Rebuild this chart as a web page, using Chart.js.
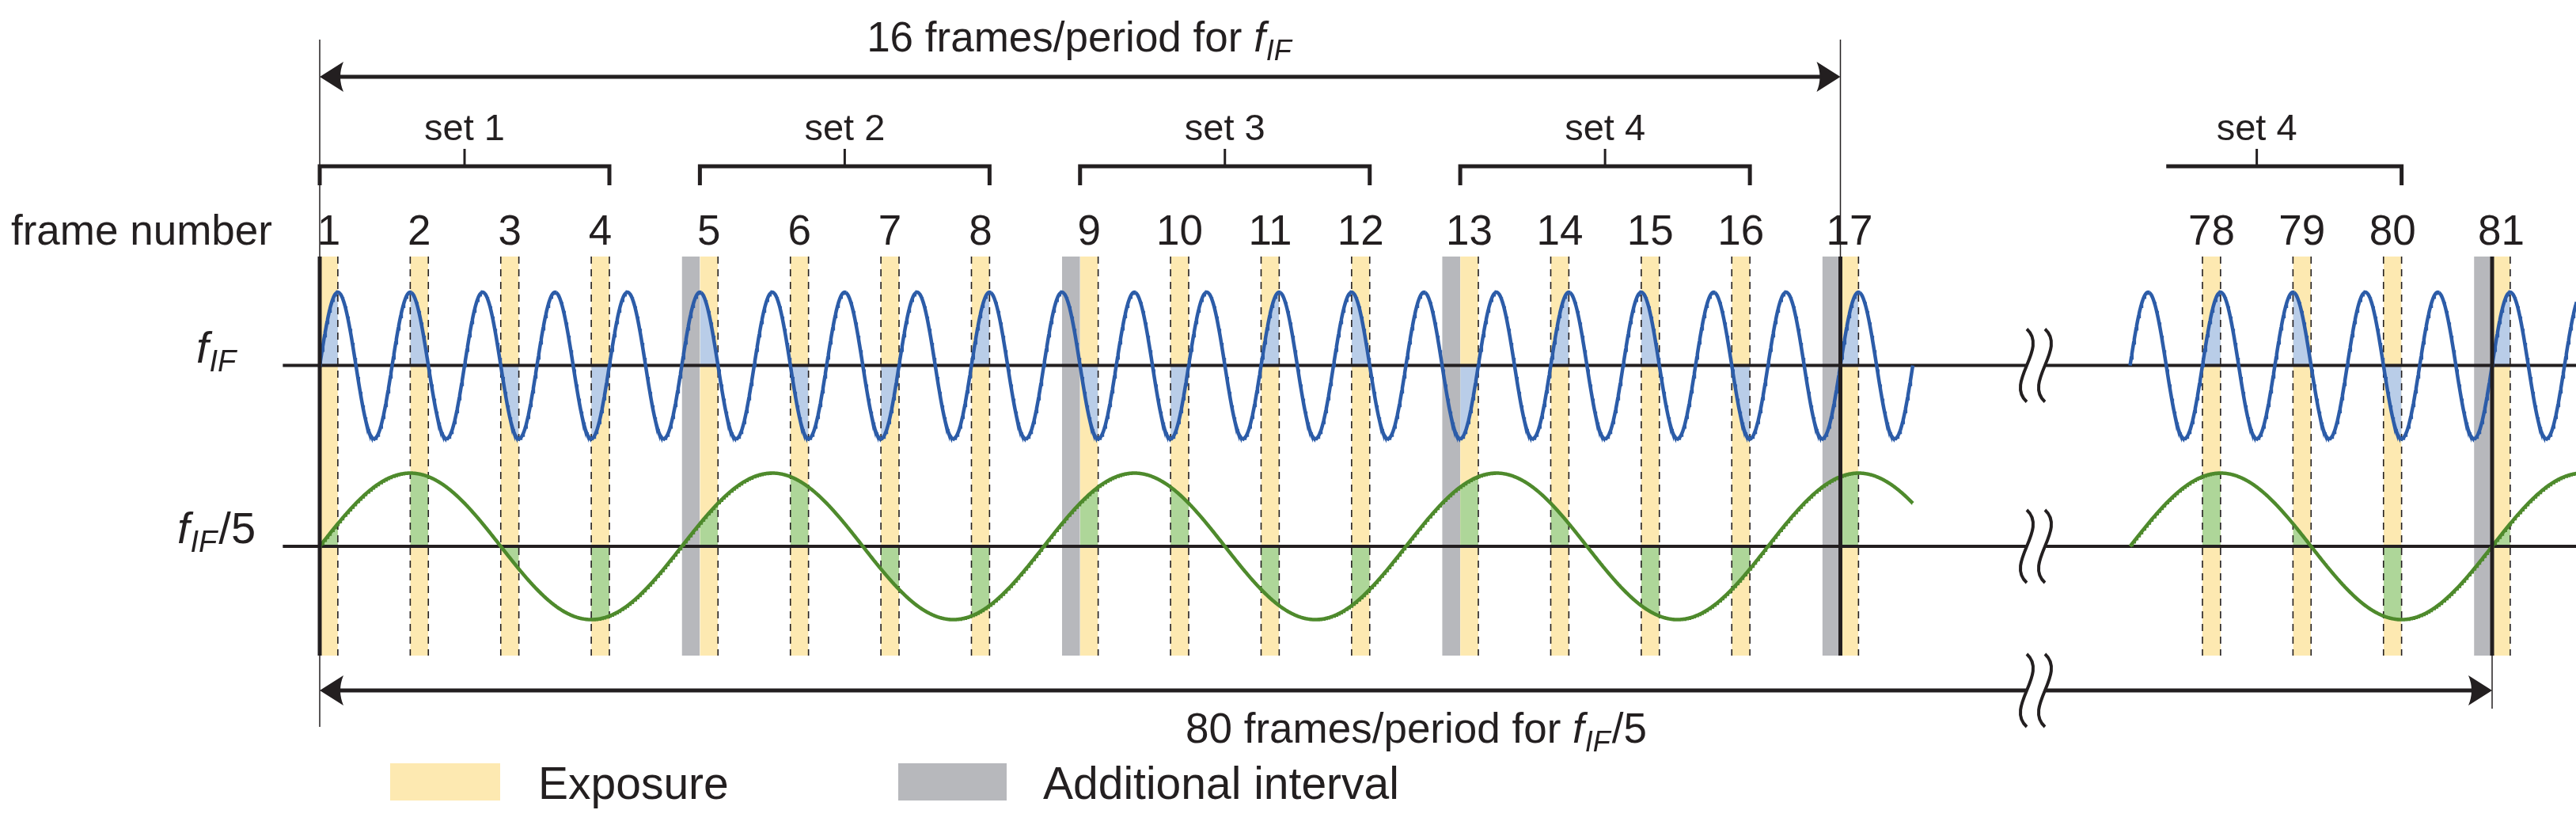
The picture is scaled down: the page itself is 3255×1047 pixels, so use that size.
<!DOCTYPE html>
<html><head><meta charset="utf-8">
<script src="https://cdn.jsdelivr.net/npm/chart.js@4"></script>
<style>html,body{margin:0;padding:0;background:#fff}canvas{display:block}</style>
</head><body>
<canvas id="c" width="3255" height="1047"></canvas>
<script>
// ---- data ----
const frameNumbers = [1,2,3,4,5,6,7,8,9,10,11,12,13,14,15,16,17,78,79,80,81];
const framesPerSet = 4;
const framePeriods = 1.25;        // frame length in fIF periods
const extraInterval = 0.25;       // additional interval (periods)
const exposureLen = 0.25;         // exposure length (periods)
const fastCycles = 1;             // fIF cycles per period
const slowCycles = 0.2;           // fIF/5 cycles per period
const setLabels = ['set 1','set 2','set 3','set 4','set 4'];
const setIndex = [0,1,2,3,19];
const greyBefore = [5,9,13,17,81];
const thickLines = [1,17,81];
const segments = [[0,22],[100,106.3]];
const breakShift = 75;            // axis compression after the break
const legendLabels = ['Exposure','Additional interval'];

// ---- layout constants (pixels, via y scale) ----
const Y_TOP = 324, Y_BOT = 828, AX1 = 461.6, AX2 = 690, AMP = 92.5;
const C_EXP = '#fde9b1', C_GREY = '#b7b8bc', C_BLUE = '#2c5ca8', C_BLUEF = '#b9cde8',
      C_GREEN = '#4e8a2c', C_GREENF = '#aed699', C_INK = '#231f20';
const FONT = '"Liberation Sans", Arial, sans-serif';

const tOf = n => Math.floor((n-1)/framesPerSet)*(framesPerSet*framePeriods+extraInterval) + ((n-1)%framesPerSet)*framePeriods;
const disp = t => t > 50 ? t - breakShift : t;

const layers = [];
function add(ds){ layers.push(ds); }
const base = {pointRadius:0, tension:0, borderWidth:0, fill:false};

greyBefore.forEach(n => { const t = disp(tOf(n));
  add({...base, data:[{x:t-extraInterval,y:Y_TOP},{x:t,y:Y_TOP}], fill:{value:Y_BOT}, backgroundColor:C_GREY}); });
frameNumbers.forEach(n => { const t = disp(tOf(n));
  add({...base, data:[{x:t,y:Y_TOP},{x:t+exposureLen,y:Y_TOP}], fill:{value:Y_BOT}, backgroundColor:C_EXP}); });
function curveR(t0,t1,cyc,ax){ const pts=[]; const N=Math.max(8,Math.round((t1-t0)*120)); const off = t0>50?breakShift:0;
  for(let i=0;i<=N;i++){ const t=t0+(t1-t0)*i/N; pts.push({x:t-off, y:ax - AMP*Math.sin(2*Math.PI*cyc*t)}); }
  return pts; }
frameNumbers.forEach(n => { const t = tOf(n);
  add({...base, data:curveR(t,t+exposureLen,fastCycles,AX1), fill:{value:AX1}, backgroundColor:C_BLUEF});
  add({...base, data:curveR(t,t+exposureLen,slowCycles,AX2), fill:{value:AX2}, backgroundColor:C_GREENF}); });
frameNumbers.forEach(n => { const t = disp(tOf(n));
  const edges = [t+exposureLen]; if(!thickLines.includes(n) && !greyBefore.includes(n)) edges.push(t);
  edges.forEach(e => add({...base, data:[{x:e,y:Y_TOP},{x:e,y:Y_BOT}], borderWidth:1.6, borderColor:C_INK, borderDash:[9,7]})); });
[AX1,AX2].forEach(ax => add({...base, data:[{x:-0.51,y:ax},{x:32,y:ax}], borderWidth:4, borderColor:C_INK}));
segments.forEach(([a,b]) => {
  add({...base, data:curveR(a,b,fastCycles,AX1), borderWidth:4.5, borderColor:C_BLUE});
  add({...base, data:curveR(a,b,slowCycles,AX2), borderWidth:4.5, borderColor:C_GREEN}); });
thickLines.forEach(n => { const t = disp(tOf(n));
  add({...base, data:[{x:t,y:Y_TOP},{x:t,y:Y_BOT}], borderWidth:5, borderColor:C_INK}); });
layers.forEach((d,i)=> d.order = layers.length - i);

const overlay = {
  id:'overlay',
  afterDatasetsDraw(chart){
    const ctx = chart.ctx, xs = chart.scales.x;
    const X = v => xs.getPixelForValue(v);
    ctx.save();
    ctx.fillStyle = C_INK; ctx.strokeStyle = C_INK;
    ctx.lineWidth = 1.5;
    const vline=(x,a,b)=>{ctx.beginPath();ctx.moveTo(x,a);ctx.lineTo(x,b);ctx.stroke();};
    vline(X(0),50,918); vline(X(disp(tOf(17))),50,Y_TOP); vline(X(disp(tOf(81))),Y_BOT,895);
    function arrow(x0,x1,y){ ctx.lineWidth=5; ctx.beginPath(); ctx.moveTo(x0+10,y); ctx.lineTo(x1-10,y); ctx.stroke();
      [[x0,1],[x1,-1]].forEach(([x,s])=>{ ctx.beginPath(); ctx.moveTo(x,y); ctx.lineTo(x+s*30,y-19);
        ctx.quadraticCurveTo(x+s*22,y,x+s*30,y+19); ctx.closePath(); ctx.fill(); }); }
    arrow(X(0),X(disp(tOf(17))),97);
    arrow(X(0),X(disp(tOf(81))),872);
    const bx = 2549;
    function brk(yc){ const h=46, top=yc-h, bot=yc+h;
      const s=(x0)=>{ctx.moveTo(x0+12,top); ctx.bezierCurveTo(x0+40,top+h*0.55, x0-16,bot-h*0.55, x0+12,bot);};
      ctx.fillStyle='#fff'; ctx.beginPath(); s(bx);
      ctx.lineTo(bx+35,bot); ctx.bezierCurveTo(bx+7,bot-h*0.55, bx+63,top+h*0.55, bx+35,top); ctx.closePath(); ctx.fill();
      ctx.strokeStyle=C_INK; ctx.lineWidth=4; ctx.beginPath(); s(bx); ctx.stroke(); ctx.beginPath(); s(bx+23); ctx.stroke(); }
    brk(AX1); brk(AX2); brk(872);
    ctx.fillStyle = C_INK;
    ctx.lineWidth = 5;
    setIndex.forEach((si,k)=>{ const s = disp(si*(framesPerSet*framePeriods+extraInterval)); const right = k===4;
      const a = X(right? s+0.75 : s), b = X(s+4), c = X(s+2);
      ctx.beginPath(); if(!right){ctx.moveTo(a,234); ctx.lineTo(a,210);} else ctx.moveTo(a,210);
      ctx.lineTo(b,210); ctx.lineTo(b,234); ctx.stroke();
      ctx.lineWidth=3; ctx.beginPath(); ctx.moveTo(c,210); ctx.lineTo(c,188); ctx.stroke(); ctx.lineWidth=5;
      ctx.font = '47px '+FONT; ctx.textAlign='center'; ctx.textBaseline='alphabetic';
      ctx.fillText(setLabels[k], c, 177); });
    ctx.font = '53px '+FONT; ctx.textAlign='center';
    frameNumbers.forEach(n=> ctx.fillText(String(n), X(disp(tOf(n))+exposureLen/2), 309));
    ctx.textAlign='left'; ctx.fillText('frame number', 14, 309);
    function measureF(size,tail){ ctx.font='italic '+size+'px '+FONT; let w=ctx.measureText('f').width+1;
      ctx.font='italic '+Math.round(size*0.68)+'px '+FONT; w+=ctx.measureText('IF').width+3;
      if(tail){ctx.font=size+'px '+FONT; w+=ctx.measureText(tail).width;} return w; }
    function fif(x,y,size,tail){ ctx.textAlign='left';
      ctx.font='italic '+size+'px '+FONT; ctx.fillText('f',x,y); let w=ctx.measureText('f').width;
      ctx.font='italic '+Math.round(size*0.68)+'px '+FONT; ctx.fillText('IF',x+w+1,y+Math.round(size*0.2)); w+=ctx.measureText('IF').width+3;
      if(tail){ ctx.font=size+'px '+FONT; ctx.fillText(tail,x+w,y); w+=ctx.measureText(tail).width; } return w; }
    fif(248,458,56,'');
    fif(224,686,56,'/5');
    function title(txt,cx,y,tail){ const wf=measureF(53,tail); ctx.font='53px '+FONT; const w1=ctx.measureText(txt).width;
      const x=cx-(w1+wf)/2; ctx.textAlign='left'; ctx.fillText(txt,x,y); fif(x+w1,y,53,tail); }
    title('16 frames/period for ',1365,65,'');
    title('80 frames/period for ',1790,938,'/5');
    ctx.fillStyle=C_EXP; ctx.fillRect(493,964,139,47);
    ctx.fillStyle=C_GREY; ctx.fillRect(1135,964,137,47);
    ctx.fillStyle=C_INK; ctx.font='57px '+FONT; ctx.textAlign='left';
    ctx.fillText(legendLabels[0],680,1009); ctx.fillText(legendLabels[1],1318,1009);
    ctx.restore();
  }
};

new Chart(document.getElementById('c'), {
  type:'line',
  data:{datasets:layers},
  options:{responsive:false, animation:false, devicePixelRatio:1,
    layout:{padding:0},
    plugins:{legend:{display:false}, tooltip:{enabled:false}},
    scales:{
      x:{type:'linear', min:-404/91.5, max:(3255-404)/91.5, display:false},
      y:{type:'linear', min:0, max:1047, reverse:true, display:false}
    }},
  plugins:[overlay]
});
</script>
</body></html>
